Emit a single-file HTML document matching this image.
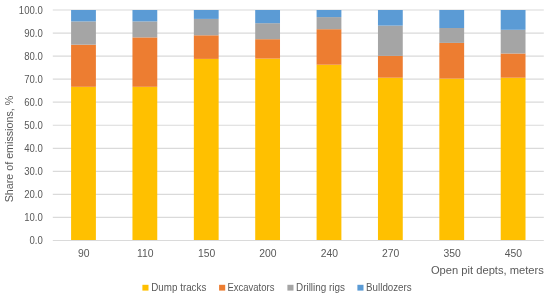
<!DOCTYPE html>
<html lang="en">
<head>
<meta charset="utf-8">
<title>Share of emissions by open pit depth</title>
<style>
html,body{margin:0;padding:0;background:#fff;}
body{width:550px;height:297px;overflow:hidden;}
svg{display:block;}
text{font-family:"Liberation Sans",sans-serif;fill:#595959;}
.tick{font-size:11px;}
.title{font-size:10.8px;}
.leg{font-size:10.1px;}
</style>
</head>
<body>
<svg width="550" height="297" viewBox="0 0 550 297">
<rect x="0" y="0" width="550" height="297" fill="#ffffff"/>

<g stroke="#DADADA" stroke-width="1.2" fill="none">
<line x1="52.8" y1="217.45" x2="543.8" y2="217.45"/>
<line x1="52.8" y1="194.40" x2="543.8" y2="194.40"/>
<line x1="52.8" y1="171.35" x2="543.8" y2="171.35"/>
<line x1="52.8" y1="148.30" x2="543.8" y2="148.30"/>
<line x1="52.8" y1="125.25" x2="543.8" y2="125.25"/>
<line x1="52.8" y1="102.20" x2="543.8" y2="102.20"/>
<line x1="52.8" y1="79.15" x2="543.8" y2="79.15"/>
<line x1="52.8" y1="56.10" x2="543.8" y2="56.10"/>
<line x1="52.8" y1="33.05" x2="543.8" y2="33.05"/>
<line x1="52.8" y1="10.00" x2="543.8" y2="10.00"/>
</g>
<g shape-rendering="auto">
<rect x="71.09" y="86.80" width="24.8" height="153.70" fill="#FFC000"/>
<rect x="71.09" y="44.70" width="24.8" height="42.10" fill="#ED7D31"/>
<rect x="71.09" y="21.40" width="24.8" height="23.30" fill="#A5A5A5"/>
<rect x="71.09" y="10.00" width="24.8" height="11.40" fill="#5B9BD5"/>
<rect x="132.46" y="86.80" width="24.8" height="153.70" fill="#FFC000"/>
<rect x="132.46" y="37.40" width="24.8" height="49.40" fill="#ED7D31"/>
<rect x="132.46" y="21.40" width="24.8" height="16.00" fill="#A5A5A5"/>
<rect x="132.46" y="10.00" width="24.8" height="11.40" fill="#5B9BD5"/>
<rect x="193.84" y="58.90" width="24.8" height="181.60" fill="#FFC000"/>
<rect x="193.84" y="35.30" width="24.8" height="23.60" fill="#ED7D31"/>
<rect x="193.84" y="18.90" width="24.8" height="16.40" fill="#A5A5A5"/>
<rect x="193.84" y="10.00" width="24.8" height="8.90" fill="#5B9BD5"/>
<rect x="255.21" y="58.60" width="24.8" height="181.90" fill="#FFC000"/>
<rect x="255.21" y="39.20" width="24.8" height="19.40" fill="#ED7D31"/>
<rect x="255.21" y="23.20" width="24.8" height="16.00" fill="#A5A5A5"/>
<rect x="255.21" y="10.00" width="24.8" height="13.20" fill="#5B9BD5"/>
<rect x="316.59" y="64.70" width="24.8" height="175.80" fill="#FFC000"/>
<rect x="316.59" y="29.20" width="24.8" height="35.50" fill="#ED7D31"/>
<rect x="316.59" y="17.10" width="24.8" height="12.10" fill="#A5A5A5"/>
<rect x="316.59" y="10.00" width="24.8" height="7.10" fill="#5B9BD5"/>
<rect x="377.96" y="77.70" width="24.8" height="162.80" fill="#FFC000"/>
<rect x="377.96" y="55.90" width="24.8" height="21.80" fill="#ED7D31"/>
<rect x="377.96" y="25.60" width="24.8" height="30.30" fill="#A5A5A5"/>
<rect x="377.96" y="10.00" width="24.8" height="15.60" fill="#5B9BD5"/>
<rect x="439.34" y="78.60" width="24.8" height="161.90" fill="#FFC000"/>
<rect x="439.34" y="42.90" width="24.8" height="35.70" fill="#ED7D31"/>
<rect x="439.34" y="28.00" width="24.8" height="14.90" fill="#A5A5A5"/>
<rect x="439.34" y="10.00" width="24.8" height="18.00" fill="#5B9BD5"/>
<rect x="500.71" y="77.70" width="24.8" height="162.80" fill="#FFC000"/>
<rect x="500.71" y="53.50" width="24.8" height="24.20" fill="#ED7D31"/>
<rect x="500.71" y="29.80" width="24.8" height="23.70" fill="#A5A5A5"/>
<rect x="500.71" y="10.00" width="24.8" height="19.80" fill="#5B9BD5"/>
</g>
<line x1="52.8" y1="240.50" x2="543.8" y2="240.50" stroke="#DADADA" stroke-width="1.2"/>
<g class="tick" text-anchor="end">
<text transform="translate(42.8,244.25) scale(0.87,1)">0.0</text>
<text transform="translate(42.8,221.20) scale(0.87,1)">10.0</text>
<text transform="translate(42.8,198.15) scale(0.87,1)">20.0</text>
<text transform="translate(42.8,175.10) scale(0.87,1)">30.0</text>
<text transform="translate(42.8,152.05) scale(0.87,1)">40.0</text>
<text transform="translate(42.8,129.00) scale(0.87,1)">50.0</text>
<text transform="translate(42.8,105.95) scale(0.87,1)">60.0</text>
<text transform="translate(42.8,82.90) scale(0.87,1)">70.0</text>
<text transform="translate(42.8,59.85) scale(0.87,1)">80.0</text>
<text transform="translate(42.8,36.80) scale(0.87,1)">90.0</text>
<text transform="translate(42.8,13.75) scale(0.87,1)">100.0</text>
</g>
<g class="tick" text-anchor="middle">
<text style="font-size:10.6px" transform="translate(83.79,257.35) scale(0.98,1)">90</text>
<text style="font-size:10.6px" transform="translate(145.16,257.35) scale(0.98,1)">110</text>
<text style="font-size:10.6px" transform="translate(206.54,257.35) scale(0.98,1)">150</text>
<text style="font-size:10.6px" transform="translate(267.91,257.35) scale(0.98,1)">200</text>
<text style="font-size:10.6px" transform="translate(329.29,257.35) scale(0.98,1)">240</text>
<text style="font-size:10.6px" transform="translate(390.66,257.35) scale(0.98,1)">270</text>
<text style="font-size:10.6px" transform="translate(452.04,257.35) scale(0.98,1)">350</text>
<text style="font-size:10.6px" transform="translate(513.41,257.35) scale(0.98,1)">450</text>
</g>
<text class="title" x="543.9" y="274" text-anchor="end" textLength="113" lengthAdjust="spacingAndGlyphs">Open pit depts, meters</text>
<text class="title" transform="translate(13.2,202.3) rotate(-90)" textLength="106.5" lengthAdjust="spacingAndGlyphs">Share of emissions, %</text>
<g class="leg">
<rect x="142.4" y="284.8" width="6.1" height="5.8" fill="#FFC000"/>
<text x="151.3" y="290.8" textLength="55.0" lengthAdjust="spacingAndGlyphs">Dump tracks</text>
<rect x="219.1" y="284.8" width="6.1" height="5.8" fill="#ED7D31"/>
<text x="227.4" y="290.8" textLength="47.0" lengthAdjust="spacingAndGlyphs">Excavators</text>
<rect x="287.4" y="284.8" width="6.1" height="5.8" fill="#A5A5A5"/>
<text x="296.0" y="290.8" textLength="49.0" lengthAdjust="spacingAndGlyphs">Drilling rigs</text>
<rect x="357.4" y="284.8" width="6.1" height="5.8" fill="#5B9BD5"/>
<text x="366.1" y="290.8" textLength="45.6" lengthAdjust="spacingAndGlyphs">Bulldozers</text>
</g>
</svg>
</body>
</html>
